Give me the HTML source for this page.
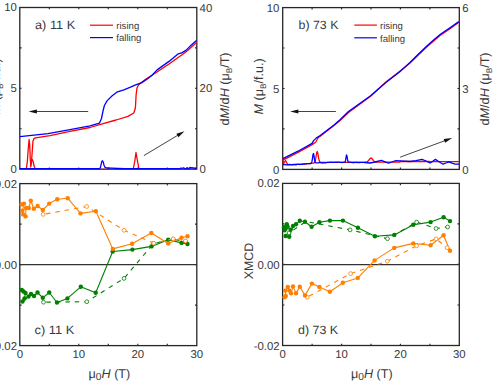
<!DOCTYPE html>
<html><head><meta charset="utf-8"><style>
html,body{margin:0;padding:0;background:#fff;width:500px;height:383px;overflow:hidden}
svg{display:block}
text{font-family:"Liberation Sans",sans-serif;fill:#3a3a3a;text-rendering:geometricPrecision}
</style></head><body>
<svg width="500" height="383" viewBox="0 0 500 383">
<rect x="19.8" y="7.5" width="177.0" height="161.7" fill="none" stroke="#262626" stroke-width="1.3"/>
<path d="M49.3,7.5v1.8M49.3,169.2v-1.8M78.8,7.5v1.8M78.8,169.2v-1.8M108.3,7.5v1.8M108.3,169.2v-1.8M137.8,7.5v1.8M137.8,169.2v-1.8M167.3,7.5v1.8M167.3,169.2v-1.8M19.8,128.8h1.8M19.8,88.3h1.8M19.8,47.9h1.8M196.8,128.8h-1.8M196.8,88.3h-1.8M196.8,47.9h-1.8" stroke="#262626" stroke-width="1.1" fill="none"/>
<rect x="282.7" y="7.6" width="176.6" height="161.8" fill="none" stroke="#262626" stroke-width="1.3"/>
<path d="M312.1,7.6v1.8M312.1,169.4v-1.8M341.6,7.6v1.8M341.6,169.4v-1.8M371.0,7.6v1.8M371.0,169.4v-1.8M400.4,7.6v1.8M400.4,169.4v-1.8M429.9,7.6v1.8M429.9,169.4v-1.8M282.7,128.9h1.8M282.7,88.5h1.8M282.7,48.0h1.8M459.3,128.9h-1.8M459.3,88.5h-1.8M459.3,48.0h-1.8" stroke="#262626" stroke-width="1.1" fill="none"/>
<rect x="19.8" y="183.6" width="177.0" height="162.0" fill="none" stroke="#262626" stroke-width="1.3"/>
<path d="M49.3,183.6v1.8M49.3,345.6v-1.8M78.8,183.6v1.8M78.8,345.6v-1.8M108.3,183.6v1.8M108.3,345.6v-1.8M137.8,183.6v1.8M137.8,345.6v-1.8M167.3,183.6v1.8M167.3,345.6v-1.8M19.8,305.1h1.8M19.8,264.6h1.8M19.8,224.1h1.8M196.8,305.1h-1.8M196.8,264.6h-1.8M196.8,224.1h-1.8" stroke="#262626" stroke-width="1.1" fill="none"/>
<rect x="282.6" y="183.4" width="176.7" height="162.1" fill="none" stroke="#262626" stroke-width="1.3"/>
<path d="M312.1,183.4v1.8M312.1,345.5v-1.8M341.6,183.4v1.8M341.6,345.5v-1.8M371.0,183.4v1.8M371.0,345.5v-1.8M400.4,183.4v1.8M400.4,345.5v-1.8M429.9,183.4v1.8M429.9,345.5v-1.8M282.6,305.0h1.8M282.6,264.4h1.8M282.6,223.9h1.8M459.3,305.0h-1.8M459.3,264.4h-1.8M459.3,223.9h-1.8" stroke="#262626" stroke-width="1.1" fill="none"/>
<path d="M19.8,264.6H196.8M282.6,264.6H459.3" stroke="#333" stroke-width="1.3"/>
<polyline points="43.5,302.2 86.8,301.7 124.0,278.4 153.3,243.6 173.2,239.5 185.5,241.5" fill="none" stroke="#007f00" stroke-width="1.1" stroke-linejoin="round" stroke-dasharray="4.5,5" stroke-dashoffset="-2.8" />
<polyline points="21.8,290.0 23.5,291.5 25.5,293.0 24.5,298.5 22.5,301.5 28.5,296.5 31.0,294.0 34.0,296.0 37.5,292.5 42.8,297.8 49.2,292.5 57.0,302.5 67.4,298.4 80.8,286.8 95.7,292.8 112.7,251.5 132.4,249.6 151.5,246.4 168.2,239.8 181.5,242.9 187.5,244.0" fill="none" stroke="#007f00" stroke-width="1.1" stroke-linejoin="round" />
<circle cx="43.5" cy="302.2" r="1.9" fill="#fff" stroke="#007f00" stroke-width="0.8"/><circle cx="86.8" cy="301.7" r="1.9" fill="#fff" stroke="#007f00" stroke-width="0.8"/><circle cx="124.0" cy="278.4" r="1.9" fill="#fff" stroke="#007f00" stroke-width="0.8"/><circle cx="153.3" cy="243.6" r="1.9" fill="#fff" stroke="#007f00" stroke-width="0.8"/><circle cx="173.2" cy="239.5" r="1.9" fill="#fff" stroke="#007f00" stroke-width="0.8"/><circle cx="185.5" cy="241.5" r="1.9" fill="#fff" stroke="#007f00" stroke-width="0.8"/>
<circle cx="21.8" cy="290.0" r="2.2" fill="#007f00"/><circle cx="23.5" cy="291.5" r="2.2" fill="#007f00"/><circle cx="25.5" cy="293.0" r="2.2" fill="#007f00"/><circle cx="24.5" cy="298.5" r="2.2" fill="#007f00"/><circle cx="22.5" cy="301.5" r="2.2" fill="#007f00"/><circle cx="28.5" cy="296.5" r="2.2" fill="#007f00"/><circle cx="31.0" cy="294.0" r="2.2" fill="#007f00"/><circle cx="34.0" cy="296.0" r="2.2" fill="#007f00"/><circle cx="37.5" cy="292.5" r="2.2" fill="#007f00"/><circle cx="42.8" cy="297.8" r="2.2" fill="#007f00"/><circle cx="49.2" cy="292.5" r="2.2" fill="#007f00"/><circle cx="57.0" cy="302.5" r="2.2" fill="#007f00"/><circle cx="67.4" cy="298.4" r="2.2" fill="#007f00"/><circle cx="80.8" cy="286.8" r="2.2" fill="#007f00"/><circle cx="95.7" cy="292.8" r="2.2" fill="#007f00"/><circle cx="112.7" cy="251.5" r="2.2" fill="#007f00"/><circle cx="132.4" cy="249.6" r="2.2" fill="#007f00"/><circle cx="151.5" cy="246.4" r="2.2" fill="#007f00"/><circle cx="168.2" cy="239.8" r="2.2" fill="#007f00"/><circle cx="181.5" cy="242.9" r="2.2" fill="#007f00"/><circle cx="187.5" cy="244.0" r="2.2" fill="#007f00"/>
<polyline points="43.2,214.4 86.7,206.5 124.0,230.3 153.8,243.2 173.2,238.8 185.5,240.9" fill="none" stroke="#ff8000" stroke-width="1.1" stroke-linejoin="round" stroke-dasharray="4.5,5" stroke-dashoffset="-2.8" />
<polyline points="21.6,204.4 24.0,203.6 22.4,210.8 23.2,214.4 25.6,216.4 26.0,208.0 28.8,208.0 30.8,200.8 33.8,208.8 37.6,206.0 42.8,210.0 49.2,203.6 57.2,199.2 67.7,198.2 80.5,213.4 95.9,211.3 112.8,248.9 132.1,243.7 151.3,233.0 168.2,243.5 181.5,237.7 187.5,236.2" fill="none" stroke="#ff8000" stroke-width="1.1" stroke-linejoin="round" />
<circle cx="43.2" cy="214.4" r="1.9" fill="#fff" stroke="#ff8000" stroke-width="0.8"/><circle cx="86.7" cy="206.5" r="1.9" fill="#fff" stroke="#ff8000" stroke-width="0.8"/><circle cx="124.0" cy="230.3" r="1.9" fill="#fff" stroke="#ff8000" stroke-width="0.8"/><circle cx="153.8" cy="243.2" r="1.9" fill="#fff" stroke="#ff8000" stroke-width="0.8"/><circle cx="173.2" cy="238.8" r="1.9" fill="#fff" stroke="#ff8000" stroke-width="0.8"/><circle cx="185.5" cy="240.9" r="1.9" fill="#fff" stroke="#ff8000" stroke-width="0.8"/>
<circle cx="21.6" cy="204.4" r="2.2" fill="#ff8000"/><circle cx="24.0" cy="203.6" r="2.2" fill="#ff8000"/><circle cx="22.4" cy="210.8" r="2.2" fill="#ff8000"/><circle cx="23.2" cy="214.4" r="2.2" fill="#ff8000"/><circle cx="25.6" cy="216.4" r="2.2" fill="#ff8000"/><circle cx="26.0" cy="208.0" r="2.2" fill="#ff8000"/><circle cx="28.8" cy="208.0" r="2.2" fill="#ff8000"/><circle cx="30.8" cy="200.8" r="2.2" fill="#ff8000"/><circle cx="33.8" cy="208.8" r="2.2" fill="#ff8000"/><circle cx="37.6" cy="206.0" r="2.2" fill="#ff8000"/><circle cx="42.8" cy="210.0" r="2.2" fill="#ff8000"/><circle cx="49.2" cy="203.6" r="2.2" fill="#ff8000"/><circle cx="57.2" cy="199.2" r="2.2" fill="#ff8000"/><circle cx="67.7" cy="198.2" r="2.2" fill="#ff8000"/><circle cx="80.5" cy="213.4" r="2.2" fill="#ff8000"/><circle cx="95.9" cy="211.3" r="2.2" fill="#ff8000"/><circle cx="112.8" cy="248.9" r="2.2" fill="#ff8000"/><circle cx="132.1" cy="243.7" r="2.2" fill="#ff8000"/><circle cx="151.3" cy="233.0" r="2.2" fill="#ff8000"/><circle cx="168.2" cy="243.5" r="2.2" fill="#ff8000"/><circle cx="181.5" cy="237.7" r="2.2" fill="#ff8000"/><circle cx="187.5" cy="236.2" r="2.2" fill="#ff8000"/>
<polyline points="307.2,297.2 350.6,273.6 387.3,261.2 416.6,245.8 436.1,238.9 447.1,247.7" fill="none" stroke="#ff8000" stroke-width="1.1" stroke-linejoin="round" stroke-dasharray="4.5,5" stroke-dashoffset="-2.3" />
<polyline points="289.0,233.0 306.0,221.5 350.1,229.9 387.5,238.7 416.6,222.1 436.1,228.5 447.6,227.0" fill="none" stroke="#007f00" stroke-width="1.1" stroke-linejoin="round" stroke-dasharray="4.5,5" stroke-dashoffset="-5.2" />
<polyline points="284.6,297.2 285.8,296.0 285.2,290.6 287.8,287.0 289.4,290.6 291.0,293.2 293.0,286.4 296.0,293.2 299.8,286.8 305.0,295.4 311.9,283.6 319.4,287.0 329.9,291.8 342.9,282.7 357.8,277.9 374.6,260.4 394.2,247.9 413.3,243.4 430.6,245.3 443.6,235.2 450.0,250.8" fill="none" stroke="#ff8000" stroke-width="1.1" stroke-linejoin="round" />
<polyline points="284.0,227.2 286.8,224.2 285.8,228.4 284.6,230.2 287.6,226.6 290.6,229.6 285.6,236.0 289.2,236.8 293.0,226.0 296.0,224.2 299.8,220.8 305.0,221.8 311.6,226.8 319.4,222.2 329.9,220.6 342.9,220.6 357.9,227.8 374.9,236.3 394.3,234.9 413.3,224.8 430.6,222.1 443.6,217.3 450.0,221.1" fill="none" stroke="#007f00" stroke-width="1.1" stroke-linejoin="round" />
<circle cx="307.2" cy="297.2" r="1.9" fill="#fff" stroke="#ff8000" stroke-width="0.8"/><circle cx="350.6" cy="273.6" r="1.9" fill="#fff" stroke="#ff8000" stroke-width="0.8"/><circle cx="387.3" cy="261.2" r="1.9" fill="#fff" stroke="#ff8000" stroke-width="0.8"/><circle cx="416.6" cy="245.8" r="1.9" fill="#fff" stroke="#ff8000" stroke-width="0.8"/><circle cx="436.1" cy="238.9" r="1.9" fill="#fff" stroke="#ff8000" stroke-width="0.8"/><circle cx="447.1" cy="247.7" r="1.9" fill="#fff" stroke="#ff8000" stroke-width="0.8"/>
<circle cx="289.0" cy="233.0" r="1.9" fill="#fff" stroke="#007f00" stroke-width="0.8"/><circle cx="350.1" cy="229.9" r="1.9" fill="#fff" stroke="#007f00" stroke-width="0.8"/><circle cx="387.5" cy="238.7" r="1.9" fill="#fff" stroke="#007f00" stroke-width="0.8"/><circle cx="416.6" cy="222.1" r="1.9" fill="#fff" stroke="#007f00" stroke-width="0.8"/><circle cx="436.1" cy="228.5" r="1.9" fill="#fff" stroke="#007f00" stroke-width="0.8"/><circle cx="447.6" cy="227.0" r="1.9" fill="#fff" stroke="#007f00" stroke-width="0.8"/>
<circle cx="284.6" cy="297.2" r="2.2" fill="#ff8000"/><circle cx="285.8" cy="296.0" r="2.2" fill="#ff8000"/><circle cx="285.2" cy="290.6" r="2.2" fill="#ff8000"/><circle cx="287.8" cy="287.0" r="2.2" fill="#ff8000"/><circle cx="289.4" cy="290.6" r="2.2" fill="#ff8000"/><circle cx="291.0" cy="293.2" r="2.2" fill="#ff8000"/><circle cx="293.0" cy="286.4" r="2.2" fill="#ff8000"/><circle cx="296.0" cy="293.2" r="2.2" fill="#ff8000"/><circle cx="299.8" cy="286.8" r="2.2" fill="#ff8000"/><circle cx="305.0" cy="295.4" r="2.2" fill="#ff8000"/><circle cx="311.9" cy="283.6" r="2.2" fill="#ff8000"/><circle cx="319.4" cy="287.0" r="2.2" fill="#ff8000"/><circle cx="329.9" cy="291.8" r="2.2" fill="#ff8000"/><circle cx="342.9" cy="282.7" r="2.2" fill="#ff8000"/><circle cx="357.8" cy="277.9" r="2.2" fill="#ff8000"/><circle cx="374.6" cy="260.4" r="2.2" fill="#ff8000"/><circle cx="394.2" cy="247.9" r="2.2" fill="#ff8000"/><circle cx="413.3" cy="243.4" r="2.2" fill="#ff8000"/><circle cx="430.6" cy="245.3" r="2.2" fill="#ff8000"/><circle cx="443.6" cy="235.2" r="2.2" fill="#ff8000"/><circle cx="450.0" cy="250.8" r="2.2" fill="#ff8000"/>
<circle cx="284.0" cy="227.2" r="2.2" fill="#007f00"/><circle cx="286.8" cy="224.2" r="2.2" fill="#007f00"/><circle cx="285.8" cy="228.4" r="2.2" fill="#007f00"/><circle cx="284.6" cy="230.2" r="2.2" fill="#007f00"/><circle cx="287.6" cy="226.6" r="2.2" fill="#007f00"/><circle cx="290.6" cy="229.6" r="2.2" fill="#007f00"/><circle cx="285.6" cy="236.0" r="2.2" fill="#007f00"/><circle cx="289.2" cy="236.8" r="2.2" fill="#007f00"/><circle cx="293.0" cy="226.0" r="2.2" fill="#007f00"/><circle cx="296.0" cy="224.2" r="2.2" fill="#007f00"/><circle cx="299.8" cy="220.8" r="2.2" fill="#007f00"/><circle cx="305.0" cy="221.8" r="2.2" fill="#007f00"/><circle cx="311.6" cy="226.8" r="2.2" fill="#007f00"/><circle cx="319.4" cy="222.2" r="2.2" fill="#007f00"/><circle cx="329.9" cy="220.6" r="2.2" fill="#007f00"/><circle cx="342.9" cy="220.6" r="2.2" fill="#007f00"/><circle cx="357.9" cy="227.8" r="2.2" fill="#007f00"/><circle cx="374.9" cy="236.3" r="2.2" fill="#007f00"/><circle cx="394.3" cy="234.9" r="2.2" fill="#007f00"/><circle cx="413.3" cy="224.8" r="2.2" fill="#007f00"/><circle cx="430.6" cy="222.1" r="2.2" fill="#007f00"/><circle cx="443.6" cy="217.3" r="2.2" fill="#007f00"/><circle cx="450.0" cy="221.1" r="2.2" fill="#007f00"/>
<polyline points="20.0,169.3 26.2,169.3 27.3,162.0 28.3,148.0 29.1,139.5 29.7,145.0 30.3,160.0 30.9,165.5 31.5,161.5 32.3,159.6 33.1,161.5 34.2,166.5 35.6,169.3 133.2,169.3 134.8,161.0 136.0,152.5 137.3,160.0 139.0,169.3 196.5,169.3" fill="none" stroke="#ff0000" stroke-width="1.3" stroke-linejoin="round" />
<polyline points="30.5,167.5 31.6,160.0 33.0,141.0 34.0,138.6 35.5,137.9 50.0,135.6 70.0,131.4 90.0,127.5 103.1,123.6 116.1,120.0 127.9,116.4 133.8,113.0 135.4,108.0 136.1,95.0 137.0,88.0 138.5,85.0 145.2,79.6 152.0,75.2 169.0,64.0 185.9,52.0 196.5,42.4" fill="none" stroke="#ff0000" stroke-width="1.3" stroke-linejoin="round" />
<polyline points="20.0,168.7 99.5,168.7 100.4,167.6 101.2,163.8 101.9,161.2 102.5,160.8 103.2,162.0 104.0,165.2 105.0,167.3 107.0,168.0 112.0,168.2 118.0,168.5 125.0,168.7 180.0,168.7 180.0,168.5 181.0,168.0 182.0,168.3 183.0,168.0 184.0,167.9 185.0,168.7 186.0,168.8 187.0,167.6 188.0,168.4 189.0,168.5 190.0,167.4 191.0,168.1 192.0,167.6 193.0,168.1 194.0,167.9 195.0,168.6 196.0,167.9 196.5,168.7" fill="none" stroke="#0000ff" stroke-width="1.3" stroke-linejoin="round" />
<polyline points="20.0,136.6 48.0,133.7 70.0,129.7 90.0,125.9 99.5,123.1 101.5,118.5 103.0,111.0 104.4,105.5 107.0,100.9 112.2,95.8 117.4,91.8 123.9,89.8 130.5,87.2 135.0,85.2 141.8,82.6 146.9,79.2 152.0,75.2 157.1,69.9 169.0,61.4 178.3,53.8 181.7,52.9 185.9,50.4 190.2,46.1 196.5,40.5" fill="none" stroke="#0000ff" stroke-width="1.3" stroke-linejoin="round" />
<polyline points="283.0,160.1 298.0,152.4 312.1,144.6 315.6,142.2 318.3,137.5 319.9,136.4 334.0,125.5 340.0,120.6 348.5,112.5 370.6,96.2 385.9,82.0 399.5,71.4 409.7,63.2 418.0,55.2 426.1,47.6 433.0,41.5 440.4,35.3 450.0,28.6 458.8,22.2" fill="none" stroke="#ff0000" stroke-width="1.3" stroke-linejoin="round" />
<polyline points="283.0,157.5 283.4,164.0 285.5,160.5 287.8,164.8 288.3,164.8 288.8,164.8 289.3,164.7 289.8,164.7 290.3,164.7 290.8,164.7 291.3,164.7 291.8,164.6 292.3,164.6 292.8,164.6 293.3,164.6 293.8,164.6 294.3,164.5 294.8,164.5 295.3,164.5 295.8,164.5 296.3,164.5 296.8,164.4 297.3,164.4 297.8,164.4 298.3,164.4 298.8,164.3 299.3,164.3 299.8,164.3 300.3,164.3 300.8,164.2 301.3,164.2 301.8,164.2 302.3,164.1 302.8,164.1 303.3,164.0 303.8,164.0 304.3,164.0 304.8,163.9 305.3,163.9 305.8,163.8 306.3,163.8 306.8,163.8 307.3,163.7 307.8,163.7 308.3,163.6 308.8,163.6 309.3,163.6 309.8,163.5 310.3,163.5 310.8,163.4 311.3,163.4 311.8,163.3 312.3,163.2 312.8,163.2 313.3,163.1 313.8,163.0 314.3,162.8 314.8,162.1 315.3,160.7 315.8,158.2 316.3,155.0 316.8,152.3 317.3,151.5 317.8,153.1 318.3,156.0 318.8,158.9 319.3,160.9 319.8,161.9 320.3,162.2 320.8,162.4 321.3,162.4 321.8,162.4 322.3,162.4 322.8,162.4 323.3,162.4 323.8,162.4 324.3,162.4 324.8,162.4 325.3,162.4 325.8,162.4 326.3,162.4 326.8,162.4 327.3,162.4 327.8,162.4 328.3,162.4 328.8,162.4 329.3,162.4 329.8,162.4 330.3,162.4 330.8,162.4 331.3,162.4 331.8,162.4 332.3,162.4 332.8,162.4 333.3,162.4 333.8,162.4 334.3,162.4 334.8,162.4 335.3,162.4 335.8,162.4 336.3,162.4 336.8,162.4 337.3,162.4 337.8,162.3 338.3,162.3 338.8,162.3 339.3,162.3 339.8,162.3 340.3,162.3 340.8,162.3 341.3,162.3 341.8,162.3 342.3,162.3 342.8,162.3 343.3,162.3 343.8,162.3 344.3,162.3 344.8,162.3 345.3,162.3 345.8,162.3 346.3,162.3 346.8,162.3 347.3,162.3 347.8,162.3 348.3,162.3 348.8,162.3 349.3,162.3 349.8,162.3 350.3,162.3 350.8,162.3 351.3,162.3 351.8,162.3 352.3,162.3 352.8,162.3 353.3,162.3 353.8,162.3 354.3,162.3 354.8,162.3 355.3,162.3 355.8,162.3 356.3,162.3 356.8,162.3 357.3,162.3 357.8,162.3 358.3,162.3 358.8,162.3 359.3,162.3 359.8,162.3 360.3,162.3 360.8,162.3 361.3,162.3 361.8,162.3 362.3,162.3 362.8,162.3 363.3,162.3 363.8,162.3 364.3,162.3 364.8,162.3 365.3,162.2 365.8,162.2 366.3,162.1 366.8,162.0 367.3,161.7 367.8,161.3 368.3,160.8 368.8,160.2 369.3,159.5 369.8,158.9 370.3,158.3 370.8,158.1 371.3,158.1 371.8,158.4 372.3,159.0 372.8,159.6 373.3,160.3 373.8,160.9 374.3,161.4 374.8,161.7 375.3,162.0 375.8,162.1 376.3,162.2 376.8,162.2 377.3,162.2 377.8,162.2 378.3,162.2 378.8,162.2 379.3,162.2 379.8,162.2 380.3,162.2 380.8,162.2 381.3,162.2 381.8,162.2 382.3,162.2 382.8,162.2 383.3,162.2 383.8,162.2 384.3,162.2 384.8,162.2 385.3,162.2 385.8,162.2 386.3,162.2 386.8,162.2 387.3,162.2 387.8,162.2 388.3,162.2 388.8,162.2 389.3,162.2 389.8,162.2 390.3,162.2 390.8,162.2 391.3,162.2 391.8,162.2 392.3,162.2 392.8,162.2 393.3,162.2 393.8,162.2 394.3,162.2 394.8,162.2 395.3,162.2 395.8,162.2 396.3,162.2 396.8,162.2 397.3,162.2 397.8,162.2 398.3,162.2 398.8,162.2 399.3,162.2 399.8,162.2 400.0,161.5 401.0,161.5 402.0,161.5 403.0,161.5 404.0,161.5 405.0,161.5 406.0,161.5 407.0,161.5 408.0,161.5 409.0,161.5 410.0,161.5 411.0,161.5 412.0,161.5 413.0,161.5 414.0,161.5 415.0,161.5 416.0,161.5 417.0,161.5 418.0,161.5 419.0,161.5 420.0,161.5 421.0,161.5 422.0,161.5 423.0,161.5 424.0,161.5 425.0,161.5 426.0,161.5 427.0,161.5 428.0,161.5 429.0,161.5 430.0,161.6 431.0,161.6 432.0,161.6 433.0,161.6 434.0,161.6 435.0,161.6 436.0,161.6 437.0,161.6 438.0,161.6 439.0,161.6 440.0,161.6 441.0,161.6 442.0,161.6 443.0,161.6 444.0,161.6 445.0,161.6 446.0,161.6 447.0,161.6 448.0,161.6 449.0,161.6 450.0,161.6 451.0,161.6 452.0,161.6 453.0,161.6 454.0,161.6 455.0,161.6 456.0,161.6 457.0,161.6 458.0,161.6 459.0,161.6" fill="none" stroke="#ff0000" stroke-width="1.3" stroke-linejoin="round" />
<polyline points="282.9,158.7 298.0,151.2 312.1,143.4 313.6,140.6 316.4,137.9 319.5,136.0 334.0,125.0 340.0,119.8 348.5,111.5 370.6,95.7 385.9,82.6 399.5,71.9 409.7,62.7 418.0,54.5 426.1,46.8 433.0,40.5 440.4,34.3 450.0,27.8 458.8,21.6" fill="none" stroke="#0000ff" stroke-width="1.3" stroke-linejoin="round" />
<polyline points="283.0,164.8 283.5,164.7 284.0,164.7 284.5,164.7 285.0,164.6 285.5,164.6 286.0,164.8 286.5,164.9 287.0,164.9 287.5,164.7 288.0,164.7 288.5,164.6 289.0,164.5 289.5,164.5 290.0,164.4 290.5,164.6 291.0,164.7 291.5,164.8 292.0,164.8 292.5,164.6 293.0,164.5 293.5,164.5 294.0,164.6 294.5,164.7 295.0,164.7 295.5,164.5 296.0,164.5 296.5,164.5 297.0,164.5 297.5,164.3 298.0,164.3 298.5,164.2 299.0,164.4 299.5,164.5 300.0,164.4 300.5,164.3 301.0,164.4 301.5,164.3 302.0,164.3 302.5,164.3 303.0,164.2 303.5,164.1 304.0,164.1 304.5,164.0 305.0,163.9 305.5,163.8 306.0,163.9 306.5,163.7 307.0,163.6 307.5,163.7 308.0,163.6 308.5,163.6 309.0,163.6 309.5,163.6 310.0,163.7 310.5,163.5 311.0,163.4 311.5,162.8 312.0,161.4 312.5,158.2 313.0,154.6 313.5,153.5 314.0,155.8 314.5,159.5 315.0,162.0 315.5,162.7 316.0,162.8 316.5,162.8 317.0,162.9 317.5,162.9 318.0,162.8 318.5,162.8 319.0,162.7 319.5,162.7 320.0,162.6 320.5,162.7 321.0,162.8 321.5,162.9 322.0,162.9 322.5,163.0 323.0,162.7 323.5,162.6 324.0,162.8 324.5,162.8 325.0,162.7 325.5,162.8 326.0,162.7 326.5,162.7 327.0,162.6 327.5,162.4 328.0,162.4 328.5,162.3 329.0,162.3 329.5,162.5 330.0,162.4 330.5,162.2 331.0,162.2 331.5,162.1 332.0,162.3 332.5,162.3 333.0,162.3 333.5,162.2 334.0,162.4 334.5,162.4 335.0,162.3 335.5,162.2 336.0,162.1 336.5,162.1 337.0,162.3 337.5,162.2 338.0,162.1 338.5,162.2 339.0,162.2 339.5,162.4 340.0,162.3 340.5,162.3 341.0,162.4 341.5,162.4 342.0,162.5 342.5,162.5 343.0,162.3 343.5,162.3 344.0,162.2 344.5,162.2 345.0,161.9 345.5,160.7 346.0,157.6 346.5,154.9 347.0,156.0 347.5,159.4 348.0,161.5 348.5,162.1 349.0,162.1 349.5,162.3 350.0,162.2 350.5,162.1 351.0,162.3 351.5,162.4 352.0,162.5 352.5,162.4 353.0,162.5 353.5,162.5 354.0,162.5 354.5,162.5 355.0,162.4 355.5,162.3 356.0,162.2 356.5,162.4 357.0,162.5 357.5,162.5 358.0,162.4 358.5,162.4 359.0,162.5 359.5,162.4 360.0,162.5 360.5,162.4 361.0,162.4 361.5,162.4 362.0,162.3 362.5,162.4 363.0,162.5 363.5,162.3 364.0,162.4 364.5,162.5 365.0,162.5 370.0,163.0 375.0,162.0 381.4,160.4 385.0,161.8 388.6,163.2 392.0,162.0 395.8,160.6 400.0,160.8 410.0,161.5 416.0,160.6 422.0,159.4 426.0,161.0 430.0,163.0 432.5,161.5 435.4,159.4 439.0,161.8 443.0,164.2 446.0,163.0 449.0,161.8 452.0,163.2 455.0,164.2 459.0,164.2" fill="none" stroke="#0000ff" stroke-width="1.3" stroke-linejoin="round" />
<line x1="88.2" y1="111.5" x2="35.9" y2="111.5" stroke="#444" stroke-width="1"/>
<path d="M28.6,111.5L36.9,109.5L36.9,113.5Z" fill="#111"/>
<line x1="143.9" y1="155.6" x2="178.2" y2="135.0" stroke="#444" stroke-width="1"/>
<path d="M184.5,131.2L178.4,137.2L176.4,133.8Z" fill="#111"/>
<line x1="335.9" y1="111.5" x2="297.4" y2="111.5" stroke="#444" stroke-width="1"/>
<path d="M290.1,111.5L298.4,109.5L298.4,113.5Z" fill="#111"/>
<line x1="400.1" y1="157.2" x2="445.4" y2="140.5" stroke="#444" stroke-width="1"/>
<path d="M452.2,138.0L445.1,142.7L443.7,139.0Z" fill="#111"/>
<path d="M90,25.2h23M90,37.6h23" stroke="none"/>
<line x1="90" y1="25.2" x2="113" y2="25.2" stroke="#ff0000" stroke-width="1.2"/>
<line x1="90" y1="37.6" x2="113" y2="37.6" stroke="#0000ff" stroke-width="1.2"/>
<line x1="354.3" y1="25.1" x2="376.9" y2="25.1" stroke="#ff0000" stroke-width="1.2"/>
<line x1="354.3" y1="37.8" x2="376.9" y2="37.8" stroke="#0000ff" stroke-width="1.2"/>
<g><text x="116.3" y="29.0" font-size="9.6" text-anchor="start" >rising</text>
<text x="116.3" y="41.4" font-size="9.6" text-anchor="start" >falling</text>
<text x="380.0" y="29.0" font-size="9.6" text-anchor="start" >rising</text>
<text x="380.0" y="41.6" font-size="9.6" text-anchor="start" >falling</text>
<text x="35.0" y="29.0" font-size="12" textLength="40.2" lengthAdjust="spacingAndGlyphs">a) 11 K</text>
<text x="298.5" y="29.0" font-size="12" textLength="40.0" lengthAdjust="spacingAndGlyphs">b) 73 K</text>
<text x="34.5" y="333.8" font-size="12" textLength="39.8" lengthAdjust="spacingAndGlyphs">c) 11 K</text>
<text x="298.0" y="333.8" font-size="12" textLength="40.2" lengthAdjust="spacingAndGlyphs">d) 73 K</text>
<text x="16.8" y="11.3" font-size="11.4" text-anchor="end" >10</text>
<text x="16.8" y="92.4" font-size="11.4" text-anchor="end" >5</text>
<text x="16.8" y="173.3" font-size="11.4" text-anchor="end" >0</text>
<text x="199.6" y="11.5" font-size="11.4" text-anchor="start" >40</text>
<text x="199.6" y="92.4" font-size="11.4" text-anchor="start" >20</text>
<text x="199.6" y="173.4" font-size="11.4" text-anchor="start" >0</text>
<text x="279.4" y="11.5" font-size="11.4" text-anchor="end" >10</text>
<text x="279.4" y="92.6" font-size="11.4" text-anchor="end" >5</text>
<text x="279.4" y="173.5" font-size="11.4" text-anchor="end" >0</text>
<text x="462.2" y="11.7" font-size="11.4" text-anchor="start" >6</text>
<text x="462.2" y="92.7" font-size="11.4" text-anchor="start" >3</text>
<text x="462.2" y="173.7" font-size="11.4" text-anchor="start" >0</text>
<text x="17.0" y="187.5" font-size="11.4" text-anchor="end" >0.02</text>
<text x="17.0" y="268.5" font-size="11.4" text-anchor="end" >0.00</text>
<text x="17.0" y="349.9" font-size="11.4" text-anchor="end" >-0.02</text>
<text x="279.6" y="187.3" font-size="11.4" text-anchor="end" >0.02</text>
<text x="279.6" y="268.5" font-size="11.4" text-anchor="end" >0.00</text>
<text x="279.6" y="350.1" font-size="11.4" text-anchor="end" >-0.02</text>
<text x="19.8" y="357.8" font-size="11.4" text-anchor="middle" >0</text>
<text x="78.8" y="357.8" font-size="11.4" text-anchor="middle" >10</text>
<text x="137.8" y="357.8" font-size="11.4" text-anchor="middle" >20</text>
<text x="196.8" y="357.8" font-size="11.4" text-anchor="middle" >30</text>
<text x="282.6" y="357.8" font-size="11.4" text-anchor="middle" >0</text>
<text x="341.5" y="357.8" font-size="11.4" text-anchor="middle" >10</text>
<text x="400.4" y="357.8" font-size="11.4" text-anchor="middle" >20</text>
<text x="459.3" y="357.8" font-size="11.4" text-anchor="middle" >30</text>
<text x="88.6" y="377.5" font-size="12.6">&#956;<tspan font-size="10.2" dy="2.5">0</tspan><tspan dy="-2.5" font-style="italic">H</tspan> (T)</text>
<text x="351.0" y="377.5" font-size="12.6">&#956;<tspan font-size="10.2" dy="2.5">0</tspan><tspan dy="-2.5" font-style="italic">H</tspan> (T)</text>
<text transform="translate(228.8,125.4) rotate(-90)" font-size="12.6">d<tspan font-style="italic">M</tspan>/d<tspan font-style="italic">H</tspan> (&#956;<tspan font-size="8.2" dy="3.2">B</tspan><tspan dy="-3.2">/T)</tspan></text>
<text transform="translate(488.5,125.4) rotate(-90)" font-size="12.6">d<tspan font-style="italic">M</tspan>/d<tspan font-style="italic">H</tspan> (&#956;<tspan font-size="8.2" dy="3.2">B</tspan><tspan dy="-3.2">/T)</tspan></text>
<text transform="translate(262.5,114.5) rotate(-90)" font-size="12.6"><tspan font-style="italic">M</tspan> (&#956;<tspan font-size="8.2" dy="3.2">B</tspan><tspan dy="-3.2">/f.u.)</tspan></text>
<text transform="translate(-0.4,114.5) rotate(-90)" font-size="12.6"><tspan font-style="italic">M</tspan> (&#956;<tspan font-size="8.2" dy="3.2">B</tspan><tspan dy="-3.2">/f.u.)</tspan></text>
<text transform="translate(253.4,279.3) rotate(-90)" font-size="12.4">XMCD</text></g>
</svg>
</body></html>
